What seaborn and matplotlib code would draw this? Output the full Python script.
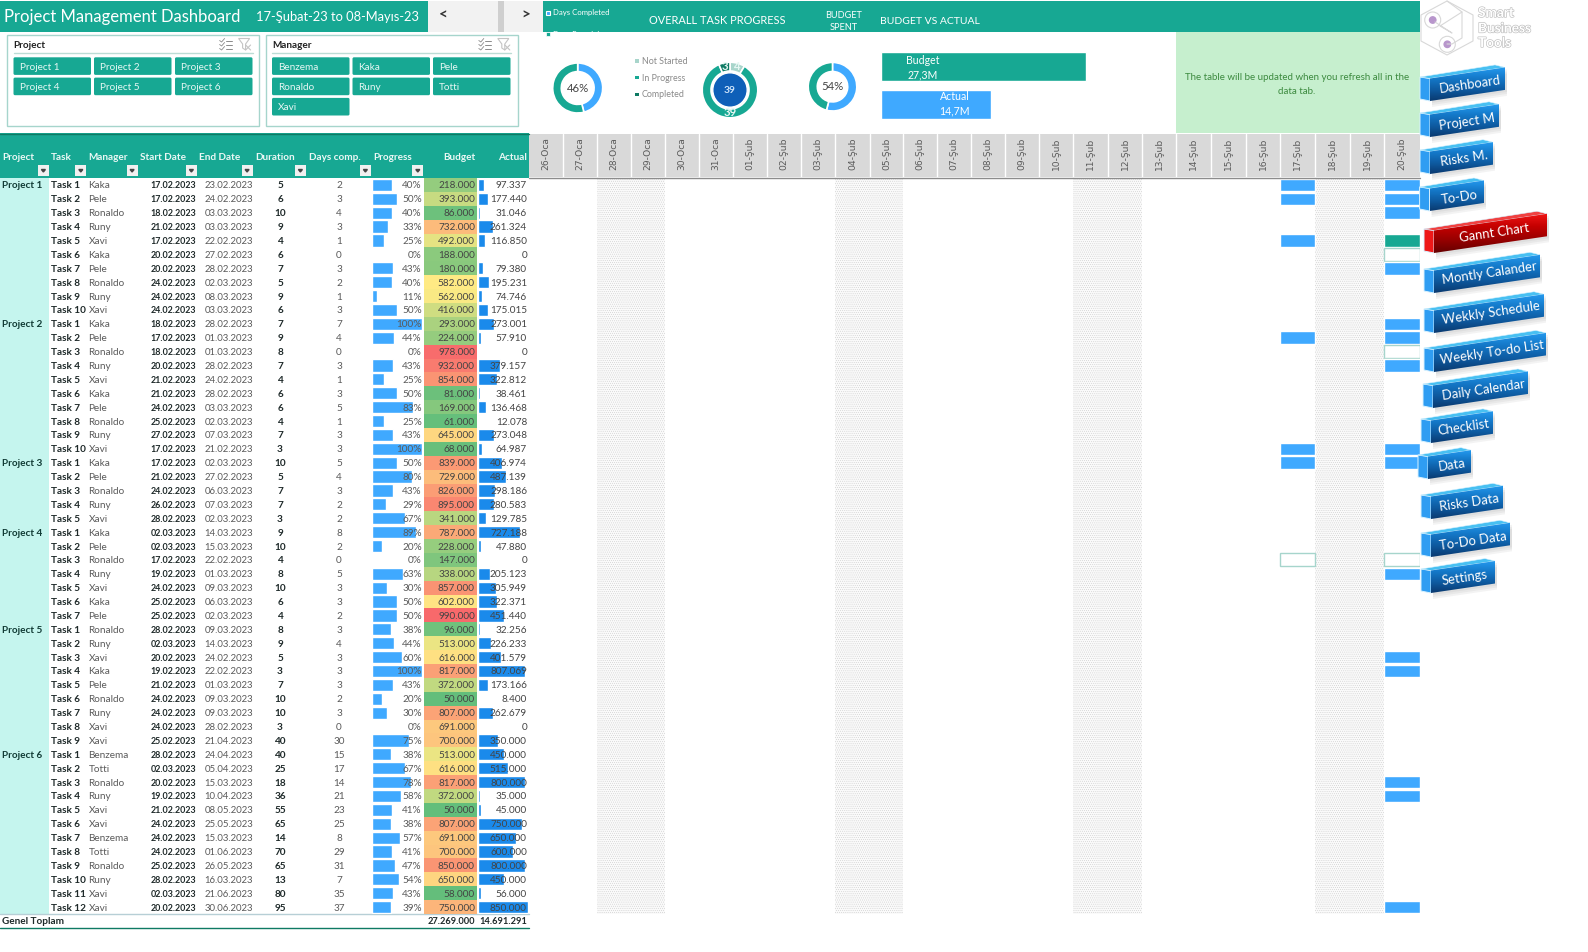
import matplotlib
matplotlib.use("Agg")
import matplotlib.pyplot as plt
import matplotlib.patheffects as pe
from matplotlib.colors import LinearSegmentedColormap, TwoSlopeNorm
from matplotlib.patches import Polygon, Rectangle, FancyBboxPatch
import numpy as np
import pandas as pd
import seaborn as sns

W, H = 1588, 952

# table data
project_names = ["Project 1", "Project 2", "Project 3", "Project 4", "Project 5", "Project 6"]
task_counts = [10, 10, 5, 7, 9, 12]
managers = ["Kaka", "Pele", "Ronaldo", "Runy", "Xavi", "Kaka", "Pele", "Ronaldo", "Runy", "Xavi",
            "Kaka", "Pele", "Ronaldo", "Runy", "Xavi", "Kaka", "Pele", "Ronaldo", "Runy", "Xavi",
            "Kaka", "Pele", "Ronaldo", "Runy", "Xavi",
            "Kaka", "Pele", "Ronaldo", "Runy", "Xavi", "Kaka", "Pele",
            "Ronaldo", "Runy", "Xavi", "Kaka", "Pele", "Ronaldo", "Runy", "Xavi", "Xavi",
            "Benzema", "Totti", "Ronaldo", "Runy", "Xavi", "Xavi", "Benzema", "Totti", "Ronaldo", "Runy", "Xavi", "Xavi"]
start_dates = ["17.02.2023", "17.02.2023", "18.02.2023", "21.02.2023", "17.02.2023", "20.02.2023", "20.02.2023", "24.02.2023", "24.02.2023", "24.02.2023",
               "18.02.2023", "17.02.2023", "18.02.2023", "20.02.2023", "21.02.2023", "21.02.2023", "24.02.2023", "25.02.2023", "27.02.2023", "17.02.2023",
               "17.02.2023", "21.02.2023", "24.02.2023", "26.02.2023", "28.02.2023",
               "02.03.2023", "02.03.2023", "17.02.2023", "19.02.2023", "24.02.2023", "25.02.2023", "25.02.2023",
               "28.02.2023", "02.03.2023", "20.02.2023", "19.02.2023", "21.02.2023", "24.02.2023", "24.02.2023", "24.02.2023", "25.02.2023",
               "28.02.2023", "02.03.2023", "20.02.2023", "19.02.2023", "21.02.2023", "24.02.2023", "24.02.2023", "24.02.2023", "25.02.2023", "28.02.2023", "02.03.2023", "20.02.2023"]
end_dates = ["23.02.2023", "24.02.2023", "03.03.2023", "03.03.2023", "22.02.2023", "27.02.2023", "28.02.2023", "02.03.2023", "08.03.2023", "03.03.2023",
             "28.02.2023", "01.03.2023", "01.03.2023", "28.02.2023", "24.02.2023", "28.02.2023", "03.03.2023", "02.03.2023", "07.03.2023", "21.02.2023",
             "02.03.2023", "27.02.2023", "06.03.2023", "07.03.2023", "02.03.2023",
             "14.03.2023", "15.03.2023", "22.02.2023", "01.03.2023", "09.03.2023", "06.03.2023", "02.03.2023",
             "09.03.2023", "14.03.2023", "24.02.2023", "22.02.2023", "01.03.2023", "09.03.2023", "09.03.2023", "28.02.2023", "21.04.2023",
             "24.04.2023", "05.04.2023", "15.03.2023", "10.04.2023", "08.05.2023", "25.05.2023", "15.03.2023", "01.06.2023", "26.05.2023", "16.03.2023", "21.06.2023", "30.06.2023"]
durations = [5, 6, 10, 9, 4, 6, 7, 5, 9, 6,
             7, 9, 8, 7, 4, 6, 6, 4, 7, 3,
             10, 5, 7, 7, 3,
             9, 10, 4, 8, 10, 6, 4,
             8, 9, 5, 3, 7, 10, 10, 3, 40,
             40, 25, 18, 36, 55, 65, 14, 70, 65, 13, 80, 95]
days_done = [2, 3, 4, 3, 1, 0, 3, 2, 1, 3,
             7, 4, 0, 3, 1, 3, 5, 1, 3, 3,
             5, 4, 3, 2, 2,
             8, 2, 0, 5, 3, 3, 2,
             3, 4, 3, 3, 3, 2, 3, 0, 30,
             15, 17, 14, 21, 23, 25, 8, 29, 31, 7, 35, 37]
progress = [40, 50, 40, 33, 25, 0, 43, 40, 11, 50,
            100, 44, 0, 43, 25, 50, 83, 25, 43, 100,
            50, 80, 43, 29, 67,
            89, 20, 0, 63, 30, 50, 50,
            38, 44, 60, 100, 43, 20, 30, 0, 75,
            38, 67, 78, 58, 41, 38, 57, 41, 47, 54, 43, 39]
budget = [218000, 393000, 86000, 732000, 492000, 188000, 180000, 582000, 562000, 416000,
          293000, 224000, 978000, 932000, 854000, 81000, 169000, 61000, 645000, 68000,
          839000, 729000, 826000, 895000, 341000,
          787000, 228000, 147000, 338000, 857000, 602000, 990000,
          96000, 513000, 616000, 817000, 372000, 50000, 807000, 691000, 700000,
          513000, 616000, 817000, 372000, 50000, 807000, 691000, 700000, 850000, 650000, 58000, 750000]
actual = [97337, 177440, 31046, 261324, 116850, 0, 79380, 195231, 74746, 175015,
          273001, 57910, 0, 379157, 322812, 38461, 136468, 12078, 273048, 64987,
          406974, 487139, 298186, 280583, 129785,
          727188, 47880, 0, 205123, 305949, 322371, 451440,
          32256, 226233, 401579, 807069, 173166, 8400, 262679, 0, 350000,
          450000, 515000, 800000, 35000, 45000, 750000, 650000, 600000, 800000, 450000, 56000, 850000]
budget_total = 27269000
actual_total = 14691291

# slicers and donuts
manager_buttons = ["Benzema", "Kaka", "Pele", "Ronaldo", "Runy", "Totti", "Xavi"]
status_labels = ["Not Started", "In Progress", "Completed"]
status_counts = [4, 39, 3]
days_pct = 46
budget_pct = 54
nav_buttons = ["Dashboard", "Project M", "Risks M.", "To-Do", "Gannt Chart", "Montly Calander", "Wekkly Schedule",
               "Weekly To-do List", "Daily Calendar", "Checklist", "Data", "Risks Data", "To-Do Data", "Settings"]

TEAL = "#17a893"
DARK_TEAL = "#0e7a63"
LIGHT_TEAL = "#a8d5cb"
BLUE = "#3fa9ff"
GREY_TXT = "#5a5a5a"
DARK_TXT = "#1f2a2a"

sns.set_theme(style="white")
plt.rcParams["font.family"] = ["Lato", "DejaVu Sans"]
plt.rcParams["hatch.linewidth"] = 0.3

fig = plt.figure(figsize=(W / 100, H / 100), dpi=100)


def px_axes(x0, y0, x1, y1, z=1):
    a = fig.add_axes([x0 / W, 1 - y1 / H, (x1 - x0) / W, (y1 - y0) / H], zorder=z)
    a.patch.set_visible(False)
    return a


bg = px_axes(0, 0, W, H, 0)
bg.set_xlim(0, W)
bg.set_ylim(H, 0)
bg.axis("off")
top = px_axes(0, 0, W, H, 5)
top.set_xlim(0, W)
top.set_ylim(H, 0)
top.axis("off")


def rect(a, x0, y0, x1, y1, color, **kw):
    a.add_patch(Rectangle((x0, y0), x1 - x0, y1 - y0, facecolor=color, edgecolor=kw.pop("edgecolor", "none"), **kw))


def txt(x, y, s, **kw):
    # Lato sits a pixel high when centred
    kw.setdefault("va", "center")
    top.text(x, y + 1, s, **kw)


# row table
rows = []
for name, n in zip(project_names, task_counts):
    for i in range(n):
        rows.append((name if i == 0 else "", f"Task {i + 1}"))
df = pd.DataFrame(rows, columns=["Project", "Task"])
df["row"] = [str(i) for i in range(len(df))]
df["Manager"] = managers
df["Start"] = pd.to_datetime(start_dates, format="%d.%m.%Y")
df["End"] = pd.to_datetime(end_dates, format="%d.%m.%Y")
df["Duration"] = durations
df["Done"] = days_done
df["Progress"] = progress
df["Budget"] = budget
df["Actual"] = actual
n_rows = len(df)
ROW_TOP, ROW_BOT = 178, 914
ROW_H = (ROW_BOT - ROW_TOP) / n_rows

# banners
rect(bg, 0, 1, 428, 31.5, TEAL)
rect(bg, 428, 1, 543, 31.5, "#f2f2f2")
rect(bg, 497.5, 1, 503.5, 31.5, "#cfcfcf")
rect(bg, 543, 1, 1420, 31.5, TEAL)
rect(bg, 1176, 31.5, 1420, 133, "#c6efce")
rect(bg, 0, 133, 529, 177.5, TEAL)
bg.plot([0, 529], [133.5, 133.5], color=DARK_TEAL, lw=1)
rect(bg, 0, ROW_TOP, 49, ROW_BOT, "#c5f5ee")

txt(4, 16, "Project Management Dashboard", color="white", fontsize=12.0)
txt(256, 16, "17-Şubat-23 to 08-Mayıs-23", color="white", fontsize=9.3)
txt(443, 14.5, "<", color="#333333", fontsize=11, ha="center", weight="bold")
txt(525.5, 14.5, ">", color="#333333", fontsize=11, ha="center", weight="bold")


def slicer(x0, x1, title, labels, col_x, text_dx):
    bg.add_patch(Rectangle((x0, 35), x1 - x0, 90.5, facecolor="white", edgecolor="#a6d5cc", lw=1))
    txt(col_x[0], 44.7, title, fontsize=7.2, weight="bold", color="#222222")
    bg.plot([col_x[0], col_x[-1] + 77.5], [53.3, 53.3], color="#bcdcd5", lw=1)
    for i, lab in enumerate(labels):
        bx = col_x[i % 3]
        by = 57.3 + (i // 3) * 20.3
        bg.add_patch(FancyBboxPatch((bx + 1, by + 1), 75.5, 15.6, boxstyle="round,pad=1,rounding_size=1.5",
                                    facecolor=TEAL, edgecolor="none"))
        txt(bx + text_dx, by + 8.8, lab, color="#e6f7f3", fontsize=7.2)
    # multi-select and clear filter icons
    ix = x1 - 36
    for dy in (-4, 0, 4):
        top.plot([ix + 3, ix + 9], [44.5 + dy, 44.5 + dy], color="#8a8a8a", lw=0.7)
        top.plot([ix - 3, ix - 1, ix + 2], [44.5 + dy, 46 + dy, 42.5 + dy], color="#8a8a8a", lw=0.6)
    fx = x1 - 14
    top.add_patch(Polygon([(fx - 6, 38.5), (fx + 5, 38.5), (fx + 1, 44), (fx + 1, 50), (fx - 2, 48), (fx - 2, 44)],
                          closed=True, fill=False, edgecolor="#c4c4c4", lw=0.8))
    top.plot([fx + 1, fx + 6], [45, 50], color="#c4c4c4", lw=0.8)
    top.plot([fx + 1, fx + 6], [50, 45], color="#c4c4c4", lw=0.8)


slicer(7.4, 258.6, "Project", project_names, [13.5, 94, 175], 6)
slicer(265.7, 517.8, "Manager", manager_buttons, [272, 352.5, 433], 6)

# table header
headers = [("Project", 2.4), ("Task", 50.7), ("Manager", 88.5), ("Start Date", 140), ("End Date", 199.4),
           ("Duration", 255), ("Days comp.", 308.6), ("Progress", 373), ("Budget", 442.8), ("Actual", 498)]
for lab, x in headers:
    txt(x, 156, lab, color="#eaf8f5", fontsize=7.2, weight="bold")
for x0 in [38, 75.4, 126.7, 186, 241.7, 295, 360, 412.4]:
    rect(top, x0, 165, x0 + 10.8, 175.7, "#f0f0f0")
    top.add_patch(Polygon([(x0 + 3.4, 169.5), (x0 + 7.4, 169.5), (x0 + 5.4, 172)], color="#444444"))

# table cells
y_of = lambda i: ROW_TOP + (i + 0.5) * ROW_H
fmt_num = lambda v: f"{v:,}".replace(",", ".")
for i, r in df.iterrows():
    y = y_of(i)
    if r.Project:
        txt(2.4, y, r.Project, fontsize=7.2, weight="bold", color="#123c36")
    txt(50.7, y, r.Task, fontsize=7.2, weight="bold", color=DARK_TXT)
    txt(88.5, y, r.Manager, fontsize=7.2, color=GREY_TXT)
    txt(173.7, y, r.Start.strftime("%d.%m.%Y"), fontsize=6.4, weight="bold", color=DARK_TXT, ha="center")
    txt(229, y, r.End.strftime("%d.%m.%Y"), fontsize=6.9, color=GREY_TXT, ha="center")
    txt(280, y, str(r.Duration), fontsize=7.2, weight="bold", color=DARK_TXT, ha="center")
    txt(339, y, str(r.Done), fontsize=7.2, color=GREY_TXT, ha="center")
    txt(422, y, f"{r.Progress}%", fontsize=7.2, color=GREY_TXT, ha="right")
    txt(475, y, fmt_num(r.Budget), fontsize=7.2, color="#444444", ha="right")
    txt(527, y, fmt_num(r.Actual), fontsize=7.2, color="#444444", ha="right")

bg.plot([0, 529], [914, 914], color="#b7cfd6", lw=1)
top.plot([0, 529], [928, 928], color=DARK_TEAL, lw=1)
txt(2.4, 921, "Genel Toplam", fontsize=7.2, weight="bold", color=DARK_TXT)
txt(475, 921, fmt_num(budget_total), fontsize=6.7, weight="bold", color=DARK_TXT, ha="right")
txt(527, 921, fmt_num(actual_total), fontsize=6.7, weight="bold", color=DARK_TXT, ha="right")

# progress data bars
ax_prog = px_axes(371.5, ROW_TOP, 422, ROW_BOT)
sns.barplot(data=df, x="Progress", y="row", orient="h", color=BLUE, saturation=1, width=0.88, ax=ax_prog)
ax_prog.set_xlim(0, 100)
ax_prog.set_ylim(n_rows - 0.5, -0.5)
ax_prog.axis("off")

# budget colour scale
ax_budget = px_axes(424, ROW_TOP, 477.3, ROW_BOT)
budget_cmap = LinearSegmentedColormap.from_list("budget", ["#63be7b", "#ffeb84", "#f8696b"])
budget_norm = TwoSlopeNorm(vmin=min(budget), vcenter=np.median(budget), vmax=max(budget))
sns.heatmap(df[["Budget"]], cmap=budget_cmap, norm=budget_norm, cbar=False, xticklabels=False, yticklabels=False, ax=ax_budget)
ax_budget.set_ylabel("")

# actual data bars
ax_act = px_axes(478, ROW_TOP, 527.5, ROW_BOT)
sns.barplot(data=df, x="Actual", y="row", orient="h", color="#1a8aeb", saturation=1, width=0.88, ax=ax_act)
ax_act.set_xlim(0, max(actual))
ax_act.set_ylim(n_rows - 0.5, -0.5)
ax_act.axis("off")

# gantt
days = pd.date_range("2023-01-26", "2023-02-20")
month_tr = {1: "Oca", 2: "Şub"}
day_labels = [f"{d.day:02d}-{month_tr[d.month]}" for d in days]
col_edges = [529, 563, 597, 631, 665, 699, 733, 767, 801, 835, 870, 903, 937, 971, 1005, 1039, 1073,
             1108, 1142, 1176, 1211, 1246, 1280, 1315, 1350, 1384, 1420]
col_idx = np.arange(len(col_edges))

rect(bg, 529, 133.5, 1420, 177, "#d9d9d9")
for e in col_edges[1:-1]:
    bg.plot([e, e], [133.5, 177], color="white", lw=1)

ax_g = px_axes(529, ROW_TOP, 1420, ROW_BOT)
ax_g.set_xscale("function", functions=(lambda v: np.interp(v, col_idx, col_edges),
                                       lambda v: np.interp(v, col_edges, col_idx)))
ax_g.set_xlim(0, len(days))
ax_g.set_ylim(n_rows - 0.5, -0.5)
for j, d in enumerate(days):
    if d.dayofweek >= 5:
        ax_g.axvspan(j, j + 1, facecolor="#fafafa", edgecolor="#c9c9c9", hatch="........", lw=0)
for i, r in df.iterrows():
    wd = pd.bdate_range(r.Start, r.End)
    for k, d in enumerate(wd):
        if d > days[-1]:
            break
        if d < days[0]:
            continue
        j = (d - days[0]).days
        if r.Done == 0:
            ax_g.barh(i, 1, left=j, height=0.94, facecolor="white", edgecolor="#a6d5cc", lw=1, zorder=3)
        elif k < r.Done:
            ax_g.barh(i, 1, left=j, height=0.9, color=BLUE, zorder=3)
        else:
            ax_g.barh(i, 1, left=j, height=0.9, color=TEAL, zorder=3)
ax_g.set_xticks(np.arange(len(days)) + 0.5)
ax_g.set_xticklabels(day_labels, rotation=90, fontsize=6.6, color=GREY_TXT, family="DejaVu Sans")
ax_g.tick_params(axis="x", length=0, bottom=False, labelbottom=False, top=True, labeltop=True, pad=5.6)
ax_g.set_yticks([])
ax_g.minorticks_off()
for s in ax_g.spines.values():
    s.set_visible(False)
top.plot([529, 1420], [177.5, 177.5], color="#8c8c8c", lw=1)

# top strip labels
top.add_patch(Rectangle((545.5, 10.5), 4.5, 4.5, facecolor=BLUE, edgecolor="white", lw=0.8))
txt(553, 12, "Days Completed", color="white", fontsize=5.6)
top.add_patch(Rectangle((545.5, 31.5), 4.5, 4.5, facecolor=TEAL, edgecolor="white", lw=0.5))
txt(553, 33, "Days Remaining", color="white", fontsize=5.6)
txt(716.8, 20, "OVERALL TASK PROGRESS", color="white", fontsize=7.9, ha="center")
txt(843.7, 14, "BUDGET", color="white", fontsize=6.6, ha="center")
txt(843.7, 26.5, "SPENT", color="white", fontsize=6.6, ha="center")
txt(880.5, 20.5, "BUDGET VS ACTUAL", color="white", fontsize=7.5)
txt(1297, 76, "The table will be updated when you refresh all in the", color="#3c8a3f", fontsize=7.0, ha="center")
txt(1297, 90, "data tab.", color="#3c8a3f", fontsize=7.0, ha="center")


def donut(cx, cy, r, hole, values, colors):
    a = px_axes(cx - r - 1, cy - r - 1, cx + r + 1, cy + r + 1, 2)
    a.pie(values, colors=colors, startangle=90, counterclock=False, radius=r / (r + 1),
          wedgeprops=dict(width=(r - hole) / (r + 1), edgecolor="white", linewidth=1.2))
    a.set_xlim(-1, 1)
    a.set_ylim(-1, 1)
    return a


donut(577.7, 88, 25, 16.4, [days_pct, 100 - days_pct], [BLUE, TEAL])
txt(577.7, 87.5, f"{days_pct}%", fontsize=8.2, color="#444444", ha="center")
donut(832.5, 86.7, 24.3, 15.2, [budget_pct, 100 - budget_pct], [BLUE, TEAL])
txt(832.5, 86, f"{budget_pct}%", fontsize=8.2, color="#444444", ha="center")

# task status donut, inner disc shows the in-progress count
ax_st = donut(730, 90, 27.8, 19, status_counts, [LIGHT_TEAL, TEAL, DARK_TEAL])
ax_in = px_axes(730 - 18, 90 - 18, 730 + 18, 90 + 18, 3)
ax_in.pie([status_counts[1]], colors=["#0f5fb8"], radius=17.2 / 18)
ax_in.set_xlim(-1, 1)
ax_in.set_ylim(-1, 1)
txt(730, 89.5, str(status_counts[1]), color="#cfe4fa", fontsize=7.4, weight="bold", ha="center")
txt(730, 111, str(status_counts[1]), color="#e6f7f3", fontsize=8.2, weight="bold", ha="center")
txt(725, 66, str(status_counts[2]), color="#e6f7f3", fontsize=8.2, weight="bold", ha="center")
txt(737, 66, str(status_counts[0]), color="#e6f7f3", fontsize=8.2, weight="bold", ha="center")

for lab, c, y in zip(status_labels, [LIGHT_TEAL, TEAL, DARK_TEAL], [61, 77.7, 94.3]):
    rect(top, 635.3, y - 1.6, 638.5, y + 1.6, c)
    txt(642, y - 0.5, lab, fontsize=6.4, color="#8a8a8a")

# budget vs actual bars
ax_ba = px_axes(880.5, 47, 1100, 124, 2)
ba_df = pd.DataFrame({"kind": ["Budget", "Actual"], "value": [budget_total / 1e6, actual_total / 1e6]})
sns.barplot(data=ba_df, x="value", y="kind", hue="kind", palette=[TEAL, BLUE], saturation=1, width=0.76, legend=False, ax=ax_ba)
ax_ba.set_xlim(0, (1100 - 880.5) / 7.55)
ax_ba.axis("off")
txt(922.8, 59.5, "Budget", color="white", fontsize=7.6, ha="center")
txt(922.8, 73.5, f"{budget_total / 1e6:.1f}M".replace(".", ","), color="white", fontsize=7.6, ha="center")
txt(955, 95.5, "Actual", color="white", fontsize=7.6, ha="center")
txt(955, 109.5, f"{actual_total / 1e6:.1f}M".replace(".", ","), color="white", fontsize=7.6, ha="center")

# logo
logo = "#d8d8d8"
top.add_patch(Polygon([(1447, 1), (1473, 15), (1473, 41), (1447, 55), (1421, 41), (1421, 15)], closed=True, fill=False, edgecolor=logo, lw=0.8))
top.plot([1447, 1462, 1440, 1452, 1435], [1, 12, 26, 33, 22], color=logo, lw=0.8)
top.plot([1462, 1462, 1452, 1447], [12, 38, 44, 44], color=logo, lw=0.8)
top.add_patch(plt.Circle((1432.7, 20), 8, fill=False, edgecolor=logo, lw=0.8))
top.add_patch(plt.Circle((1447.3, 44.3), 8, fill=False, edgecolor=logo, lw=0.8))
top.add_patch(plt.Circle((1432.7, 20), 3.2, color="#b896cc"))
top.add_patch(plt.Circle((1447.3, 44.3), 3.2, color="#b896cc"))
for t, y in zip(["Smart", "Business", "Tools"], [12, 27.5, 42]):
    txt(1478, y, t, fontsize=9.8, weight="bold", color="white",
        path_effects=[pe.withStroke(linewidth=0.9, foreground="#bdbdbd")])

# 3d navigation buttons
nav_geom = [(1420, 1505, 101, 1470, 84), (1420, 1499, 137, 1467, 122), (1420, 1493, 174, 1464, 159),
            (1419.6, 1484, 211, 1459, 197), (1424, 1547, 253, 1494, 233), (1424, 1540, 293, 1489, 273),
            (1424, 1544, 333, 1491, 313), (1424, 1546, 372, 1492, 352), (1423, 1528, 408, 1483, 390),
            (1421, 1493, 443, 1464, 427), (1418, 1471, 479, 1452, 465), (1421, 1503, 519, 1469, 503),
            (1421, 1510, 557, 1473, 541), (1421, 1495, 593, 1465, 578)]
grad = np.linspace(0, 1, 64).reshape(-1, 1)
blue_grad = LinearSegmentedColormap.from_list("b", ["#2499ee", "#1478c8", "#0e5aa0", "#0a3a70"])
red_grad = LinearSegmentedColormap.from_list("r", ["#f01414", "#c40000", "#980000", "#660000"])
SLOPE, FH, LW, TH = 0.148, 22.5, 10, 2.5
for lab, (xl, xr, yb, tx, ty) in zip(nav_buttons, nav_geom):
    red = lab == "Gannt Chart"
    x1 = xl + LW
    rise = SLOPE * (xr - x1)
    front = [(x1, yb), (xr, yb - rise), (xr, yb - rise - FH), (x1, yb - FH)]
    for d in (6, 4, 2):
        top.add_patch(Polygon([(px + 2, py + d) for px, py in front], closed=True, facecolor="#808080", alpha=0.09, edgecolor="none"))
    top.add_patch(Polygon([(xl, yb - 2), (x1, yb), (x1, yb - FH), (xl, yb - FH - 1.5)], closed=True,
                          facecolor="#ee1818" if red else "#2f9df2", edgecolor="#d8f2ff", lw=0.7))
    top.add_patch(Polygon([(xl, yb - FH - 1.5), (x1, yb - FH), (xr, yb - rise - FH), (xr - LW, yb - rise - FH - TH)],
                          closed=True, facecolor="#f04040" if red else "#48c0f2", edgecolor="#d8f2ff", lw=0.4))
    clip = Polygon(front, closed=True, transform=top.transData, facecolor="none", edgecolor="none")
    top.add_patch(clip)
    im = top.imshow(grad, cmap=red_grad if red else blue_grad, aspect="auto",
                    extent=(x1, xr, yb, yb - rise - FH), zorder=2)
    im.set_clip_path(clip)
    top.text(tx, ty, lab, color="white", fontsize=9.4, ha="center", va="center", rotation=8.4, rotation_mode="anchor", zorder=4)
top.set_xlim(0, W)
top.set_ylim(H, 0)

fig.savefig("out.png", dpi=100)
